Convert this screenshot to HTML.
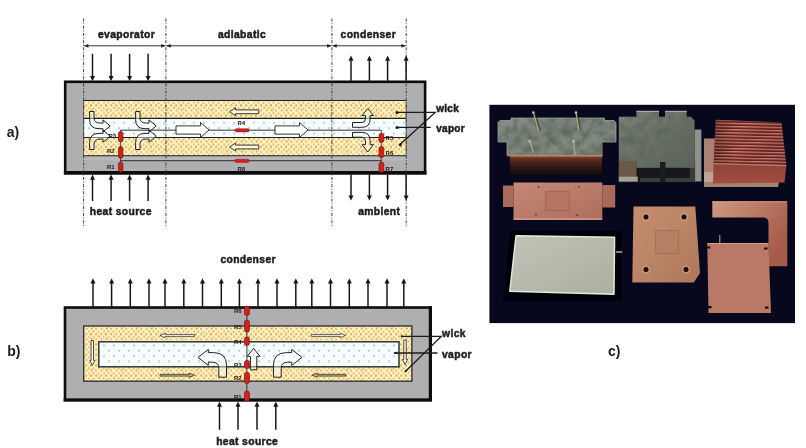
<!DOCTYPE html>
<html><head><meta charset="utf-8"><title>Vapor chamber</title>
<style>
html,body{margin:0;padding:0;background:#fff;}
body{width:806px;height:448px;overflow:hidden;font-family:"Liberation Sans",sans-serif;}
svg{display:block;}
text{font-family:"Liberation Sans",sans-serif;font-weight:bold;fill:#1e1e1e;}
.lb{font-size:10.3px;letter-spacing:0.38px;stroke:#1e1e1e;stroke-width:0.5px;}
.lb2{font-size:10px;letter-spacing:0.3px;stroke:#1e1e1e;stroke-width:0.5px;}
.big{font-size:14px;}
.r{font-size:6px;fill:#1a1a1a;}
</style></head><body>
<svg width="806" height="448" viewBox="0 0 806 448">
<defs>
<pattern id="wick" width="15" height="10.4" patternUnits="userSpaceOnUse">
 <rect width="15" height="10.4" fill="#fbf0c2"/>
 <circle cx="0.99" cy="1.34" r="1.08" fill="#d49a3c"/>
 <circle cx="6.22" cy="1.36" r="1.08" fill="#dca444"/>
 <circle cx="11.22" cy="1.34" r="1.10" fill="#e0ae52"/>
 <circle cx="3.72" cy="4.17" r="0.95" fill="#e4b65e"/>
 <circle cx="9.11" cy="3.69" r="1.07" fill="#e0ae52"/>
 <circle cx="13.77" cy="4.09" r="0.89" fill="#dca444"/>
 <circle cx="1.71" cy="6.13" r="1.06" fill="#dca444"/>
 <circle cx="6.02" cy="6.58" r="1.03" fill="#e4b65e"/>
 <circle cx="11.67" cy="6.42" r="1.09" fill="#e4b65e"/>
 <circle cx="3.38" cy="8.99" r="0.88" fill="#dca444"/>
 <circle cx="8.47" cy="9.47" r="1.04" fill="#e4b65e"/>
 <circle cx="14.11" cy="9.04" r="0.99" fill="#e4b65e"/>
</pattern>
<pattern id="vap" width="10" height="10.6" patternUnits="userSpaceOnUse">
 <rect width="10" height="10.6" fill="#f8fcfc"/>
 <circle cx="4" cy="6.3" r="0.9" fill="#80ccc8"/>
 <circle cx="9" cy="1" r="0.9" fill="#80ccc8"/>
</pattern>
<filter id="soft" x="-5%" y="-5%" width="110%" height="110%"><feGaussianBlur stdDeviation="0.45"/></filter>
<filter id="ph" x="-5%" y="-5%" width="110%" height="110%"><feGaussianBlur stdDeviation="0.6"/></filter>
</defs>
<rect width="806" height="448" fill="#fff"/>
<g filter="url(#soft)">

<g id="a">
<rect x="65.2" y="81.8" width="359.9" height="91.4" fill="#afafb1" stroke="#0a0a0a" stroke-width="2.6"/>
<rect x="83.6" y="100.5" width="322.6" height="17.9" fill="url(#wick)"/>
<rect x="83.6" y="118.4" width="322.6" height="19.1" fill="url(#vap)"/>
<rect x="83.6" y="137.5" width="322.6" height="18.3" fill="url(#wick)"/>
<rect x="83.6" y="155.8" width="322.6" height="4.8" fill="#b8b8ba"/>
<line x1="63.9" y1="172.7" x2="426.4" y2="172.7" stroke="#0a0a0a" stroke-width="3.4"/>
<line x1="83.6" y1="100.5" x2="406.2" y2="100.5" stroke="#1c1c1c" stroke-width="1.1"/>
<line x1="83.6" y1="118.4" x2="406.2" y2="118.4" stroke="#1c1c1c" stroke-width="1.1"/>
<line x1="83.6" y1="137.5" x2="406.2" y2="137.5" stroke="#1c1c1c" stroke-width="1.1"/>
<line x1="83.6" y1="155.8" x2="406.2" y2="155.8" stroke="#1c1c1c" stroke-width="1.1"/>
<line x1="83.6" y1="100.5" x2="83.6" y2="155.8" stroke="#444" stroke-width="0.7"/>
<line x1="406.2" y1="100.5" x2="406.2" y2="155.8" stroke="#444" stroke-width="0.7"/>
<line x1="120.5" y1="130.3" x2="381.2" y2="130.3" stroke="#777" stroke-width="1.6"/>
<line x1="120.5" y1="160.6" x2="381.2" y2="160.6" stroke="#4a4a4a" stroke-width="1.2"/>
<line x1="120.6" y1="130" x2="120.6" y2="172" stroke="#222" stroke-width="0.8"/><line x1="381.3" y1="130" x2="381.3" y2="172" stroke="#222" stroke-width="0.8"/>
<line x1="83.6" y1="18.5" x2="83.6" y2="227.5" stroke="#3a3a3a" stroke-width="0.95" stroke-dasharray="3.2 1.5 1 1.5"/>
<line x1="165.9" y1="18.5" x2="165.9" y2="227.5" stroke="#3a3a3a" stroke-width="0.95" stroke-dasharray="3.2 1.5 1 1.5"/>
<line x1="331.9" y1="18.5" x2="331.9" y2="227.5" stroke="#3a3a3a" stroke-width="0.95" stroke-dasharray="3.2 1.5 1 1.5"/>
<line x1="406.2" y1="18.5" x2="406.2" y2="227.5" stroke="#3a3a3a" stroke-width="0.95" stroke-dasharray="3.2 1.5 1 1.5"/>
<line x1="84.2" y1="45.8" x2="165.3" y2="45.8" stroke="#333" stroke-width="1"/><path d="M84.2 45.8 l4.2 -1.9 v3.8 Z M165.3 45.8 l-4.2 -1.9 v3.8 Z" fill="#222"/>
<line x1="166.5" y1="45.8" x2="331.3" y2="45.8" stroke="#333" stroke-width="1"/><path d="M166.5 45.8 l4.2 -1.9 v3.8 Z M331.3 45.8 l-4.2 -1.9 v3.8 Z" fill="#222"/>
<line x1="332.5" y1="45.8" x2="405.6" y2="45.8" stroke="#333" stroke-width="1"/><path d="M332.5 45.8 l4.2 -1.9 v3.8 Z M405.6 45.8 l-4.2 -1.9 v3.8 Z" fill="#222"/>
<line x1="92.5" y1="53.8" x2="92.5" y2="78.18" stroke="#181818" stroke-width="1.5"/><path d="M92.5 81.3 L90.0 76.1 L95.0 76.1 Z" fill="#181818"/>
<line x1="92.5" y1="201" x2="92.5" y2="177.72" stroke="#181818" stroke-width="1.5"/><path d="M92.5 174.6 L90.0 179.79999999999998 L95.0 179.79999999999998 Z" fill="#181818"/>
<line x1="111.1" y1="53.8" x2="111.1" y2="78.18" stroke="#181818" stroke-width="1.5"/><path d="M111.1 81.3 L108.6 76.1 L113.6 76.1 Z" fill="#181818"/>
<line x1="111.1" y1="201" x2="111.1" y2="177.72" stroke="#181818" stroke-width="1.5"/><path d="M111.1 174.6 L108.6 179.79999999999998 L113.6 179.79999999999998 Z" fill="#181818"/>
<line x1="129.6" y1="53.8" x2="129.6" y2="78.18" stroke="#181818" stroke-width="1.5"/><path d="M129.6 81.3 L127.1 76.1 L132.1 76.1 Z" fill="#181818"/>
<line x1="129.6" y1="201" x2="129.6" y2="177.72" stroke="#181818" stroke-width="1.5"/><path d="M129.6 174.6 L127.1 179.79999999999998 L132.1 179.79999999999998 Z" fill="#181818"/>
<line x1="148.1" y1="53.8" x2="148.1" y2="78.18" stroke="#181818" stroke-width="1.5"/><path d="M148.1 81.3 L145.6 76.1 L150.6 76.1 Z" fill="#181818"/>
<line x1="148.1" y1="201" x2="148.1" y2="177.72" stroke="#181818" stroke-width="1.5"/><path d="M148.1 174.6 L145.6 179.79999999999998 L150.6 179.79999999999998 Z" fill="#181818"/>
<line x1="351" y1="81" x2="351" y2="58.62" stroke="#181818" stroke-width="1.5"/><path d="M351 55.5 L348.5 60.7 L353.5 60.7 Z" fill="#181818"/>
<line x1="351" y1="174.6" x2="351" y2="197.48" stroke="#181818" stroke-width="1.5"/><path d="M351 200.6 L348.5 195.4 L353.5 195.4 Z" fill="#181818"/>
<line x1="369.4" y1="81" x2="369.4" y2="58.62" stroke="#181818" stroke-width="1.5"/><path d="M369.4 55.5 L366.9 60.7 L371.9 60.7 Z" fill="#181818"/>
<line x1="369.4" y1="174.6" x2="369.4" y2="197.48" stroke="#181818" stroke-width="1.5"/><path d="M369.4 200.6 L366.9 195.4 L371.9 195.4 Z" fill="#181818"/>
<line x1="387.6" y1="81" x2="387.6" y2="58.62" stroke="#181818" stroke-width="1.5"/><path d="M387.6 55.5 L385.1 60.7 L390.1 60.7 Z" fill="#181818"/>
<line x1="387.6" y1="174.6" x2="387.6" y2="197.48" stroke="#181818" stroke-width="1.5"/><path d="M387.6 200.6 L385.1 195.4 L390.1 195.4 Z" fill="#181818"/>
<line x1="406.1" y1="81" x2="406.1" y2="58.62" stroke="#181818" stroke-width="1.5"/><path d="M406.1 55.5 L403.6 60.7 L408.6 60.7 Z" fill="#181818"/>
<line x1="406.1" y1="174.6" x2="406.1" y2="197.48" stroke="#181818" stroke-width="1.5"/><path d="M406.1 200.6 L403.6 195.4 L408.6 195.4 Z" fill="#181818"/>
<path d="M258.8 109.89999999999999 L235.6 109.89999999999999 L235.6 107.8 L229.6 111.8 L235.6 115.8 L235.6 113.7 L258.8 113.7 Z" fill="#fdf6d8" stroke="#222" stroke-width="0.9" stroke-linejoin="miter"/>
<path d="M258.8 145.1 L235.6 145.1 L235.6 143 L229.6 147 L235.6 151 L235.6 148.9 L258.8 148.9 Z" fill="#fdf6d8" stroke="#222" stroke-width="0.9" stroke-linejoin="miter"/>
<path d="M176 125.9 L200.5 125.9 L200.5 122.4 L209 130 L200.5 137.6 L200.5 134.1 L176 134.1 Z" fill="#fff" stroke="#222" stroke-width="0.9" stroke-linejoin="miter"/>
<path d="M275 125.9 L299.5 125.9 L299.5 122.4 L308 130 L299.5 137.6 L299.5 134.1 L275 134.1 Z" fill="#fff" stroke="#222" stroke-width="0.9" stroke-linejoin="miter"/>
<path d="M89.6 111.5 h4.4 v6.6 q0 5 6.5 5 h2.5 v-3.2 l7.2 6 l-7.2 6 v-3.2 h-4 q-9.4 0 -9.4 -9 Z" fill="#fff" fill-opacity="0.45" stroke="#1c2424" stroke-width="1"/><path d="M89.6 149.5 h4.4 v-5.5 q0 -5 6.5 -5 h2.5 v3.2 l7.2 -6 l-7.2 -6 v3.2 h-4 q-9.4 0 -9.4 9 Z" fill="#fff" fill-opacity="0.45" stroke="#1c2424" stroke-width="1"/>
<path d="M135.6 111.5 h4.4 v6.6 q0 5 6.5 5 h2.5 v-3.2 l7.2 6 l-7.2 6 v-3.2 h-4 q-9.4 0 -9.4 -9 Z" fill="#fff" fill-opacity="0.45" stroke="#1c2424" stroke-width="1"/><path d="M135.6 149.5 h4.4 v-5.5 q0 -5 6.5 -5 h2.5 v3.2 l7.2 -6 l-7.2 -6 v3.2 h-4 q-9.4 0 -9.4 9 Z" fill="#fff" fill-opacity="0.45" stroke="#1c2424" stroke-width="1"/>
<path d="M352.5 122.5 h9.5 q3.5 0 3.5 -4 v-3 h-3.3 l5.6 -7 l5.6 7 h-3.3 v3.5 q0 8.3 -8 8.3 h-9.6 Z" fill="#fff" fill-opacity="0.45" stroke="#1c2424" stroke-width="1"/>
<path d="M352.5 132.4 h9.6 q8 0 8 8.3 v4 h3.3 l-5.6 7.3 l-5.6 -7.3 h3.3 v-3.5 q0 -4 -3.5 -4 h-9.5 Z" fill="#fff" fill-opacity="0.45" stroke="#1c2424" stroke-width="1"/>
<rect x="118.50" y="131.6" width="4.4" height="10.20" rx="1.9" fill="#d22019" stroke="#7e1410" stroke-width="0.7"/>
<rect x="118.50" y="146.6" width="4.4" height="11.60" rx="1.9" fill="#d22019" stroke="#7e1410" stroke-width="0.7"/>
<rect x="118.50" y="162.2" width="4.4" height="9.80" rx="1.9" fill="#d22019" stroke="#7e1410" stroke-width="0.7"/>
<rect x="379.00" y="133.4" width="4.8" height="9.00" rx="1.9" fill="#d22019" stroke="#7e1410" stroke-width="0.7"/>
<rect x="379.00" y="146.6" width="4.8" height="10.80" rx="1.9" fill="#d22019" stroke="#7e1410" stroke-width="0.7"/>
<rect x="379.00" y="162.2" width="4.8" height="10.00" rx="1.9" fill="#d22019" stroke="#7e1410" stroke-width="0.7"/>
<rect x="235" y="128.70" width="14.00" height="3.2" rx="1.2" fill="#d62420" stroke="#8e1512" stroke-width="0.5"/>
<rect x="235" y="159.20" width="14.00" height="3.2" rx="1.2" fill="#d62420" stroke="#8e1512" stroke-width="0.5"/>
<text class="r" x="108.5" y="137.6">R3</text><text class="r" x="107" y="152.6">R2</text><text class="r" x="107" y="168.6">R1</text>
<text class="r" x="385.6" y="140.3">R5</text><text class="r" x="385.6" y="155.2">R6</text><text class="r" x="385.6" y="171">R7</text>
<text class="r" x="237.5" y="124.6">R4</text><text class="r" x="237.5" y="170.6">R8</text>
<path d="M397 112.4 H435.2 L400 144.6" fill="none" stroke="#1a1a1a" stroke-width="1.3"/>
<line x1="396" y1="127.4" x2="430.8" y2="127.4" stroke="#1a1a1a" stroke-width="1.3"/>
<circle cx="397" cy="112.4" r="1.5" fill="#1a1a1a"/><circle cx="400.4" cy="144.8" r="1.5" fill="#1a1a1a"/><circle cx="397" cy="127.6" r="1.5" fill="#1a1a1a"/>
</g>
<text class="lb" x="98" y="38">evaporator</text>
<text class="lb" x="218" y="38">adiabatic</text>
<text class="lb" x="340.6" y="38">condenser</text>
<text class="lb" x="89.8" y="214.6">heat source</text>
<text class="lb" x="358.2" y="214.6">ambient</text>
<text class="lb2" x="436.2" y="111.9">wick</text>
<text class="lb2" x="436.2" y="131.5">vapor</text>
<text class="big" x="6.8" y="136.5">a)</text>
<g id="b">
<rect x="65" y="307.5" width="365.5" height="92.5" fill="#afafb1" stroke="#0a0a0a" stroke-width="2.6"/>
<line x1="430.4" y1="306.2" x2="430.4" y2="401.3" stroke="#0a0a0a" stroke-width="3.2"/>
<line x1="63.7" y1="400" x2="432" y2="400" stroke="#0a0a0a" stroke-width="3"/>
<rect x="83.7" y="326" width="328.2" height="55.2" fill="url(#wick)" stroke="#2a2a2a" stroke-width="1.3"/>
<rect x="98.8" y="341.8" width="300.2" height="25" fill="url(#vap)" stroke="#303835" stroke-width="1.5"/>
<line x1="93" y1="307" x2="93" y2="281.42" stroke="#181818" stroke-width="1.5"/><path d="M93 278.3 L90.5 283.5 L95.5 283.5 Z" fill="#181818"/>
<line x1="111.6" y1="307" x2="111.6" y2="281.42" stroke="#181818" stroke-width="1.5"/><path d="M111.6 278.3 L109.1 283.5 L114.1 283.5 Z" fill="#181818"/>
<line x1="130.3" y1="307" x2="130.3" y2="281.42" stroke="#181818" stroke-width="1.5"/><path d="M130.3 278.3 L127.80000000000001 283.5 L132.8 283.5 Z" fill="#181818"/>
<line x1="149" y1="307" x2="149" y2="281.42" stroke="#181818" stroke-width="1.5"/><path d="M149 278.3 L146.5 283.5 L151.5 283.5 Z" fill="#181818"/>
<line x1="165" y1="307" x2="165" y2="281.42" stroke="#181818" stroke-width="1.5"/><path d="M165 278.3 L162.5 283.5 L167.5 283.5 Z" fill="#181818"/>
<line x1="183.8" y1="307" x2="183.8" y2="281.42" stroke="#181818" stroke-width="1.5"/><path d="M183.8 278.3 L181.3 283.5 L186.3 283.5 Z" fill="#181818"/>
<line x1="202.5" y1="307" x2="202.5" y2="281.42" stroke="#181818" stroke-width="1.5"/><path d="M202.5 278.3 L200.0 283.5 L205.0 283.5 Z" fill="#181818"/>
<line x1="221.3" y1="307" x2="221.3" y2="281.42" stroke="#181818" stroke-width="1.5"/><path d="M221.3 278.3 L218.8 283.5 L223.8 283.5 Z" fill="#181818"/>
<line x1="239.4" y1="307" x2="239.4" y2="281.42" stroke="#181818" stroke-width="1.5"/><path d="M239.4 278.3 L236.9 283.5 L241.9 283.5 Z" fill="#181818"/>
<line x1="258" y1="307" x2="258" y2="281.42" stroke="#181818" stroke-width="1.5"/><path d="M258 278.3 L255.5 283.5 L260.5 283.5 Z" fill="#181818"/>
<line x1="277" y1="307" x2="277" y2="281.42" stroke="#181818" stroke-width="1.5"/><path d="M277 278.3 L274.5 283.5 L279.5 283.5 Z" fill="#181818"/>
<line x1="295.8" y1="307" x2="295.8" y2="281.42" stroke="#181818" stroke-width="1.5"/><path d="M295.8 278.3 L293.3 283.5 L298.3 283.5 Z" fill="#181818"/>
<line x1="311.8" y1="307" x2="311.8" y2="281.42" stroke="#181818" stroke-width="1.5"/><path d="M311.8 278.3 L309.3 283.5 L314.3 283.5 Z" fill="#181818"/>
<line x1="330.5" y1="307" x2="330.5" y2="281.42" stroke="#181818" stroke-width="1.5"/><path d="M330.5 278.3 L328.0 283.5 L333.0 283.5 Z" fill="#181818"/>
<line x1="349.3" y1="307" x2="349.3" y2="281.42" stroke="#181818" stroke-width="1.5"/><path d="M349.3 278.3 L346.8 283.5 L351.8 283.5 Z" fill="#181818"/>
<line x1="368" y1="307" x2="368" y2="281.42" stroke="#181818" stroke-width="1.5"/><path d="M368 278.3 L365.5 283.5 L370.5 283.5 Z" fill="#181818"/>
<line x1="387" y1="307" x2="387" y2="281.42" stroke="#181818" stroke-width="1.5"/><path d="M387 278.3 L384.5 283.5 L389.5 283.5 Z" fill="#181818"/>
<line x1="403.8" y1="307" x2="403.8" y2="281.42" stroke="#181818" stroke-width="1.5"/><path d="M403.8 278.3 L401.3 283.5 L406.3 283.5 Z" fill="#181818"/>
<line x1="219.5" y1="429.8" x2="219.5" y2="404.72" stroke="#181818" stroke-width="1.5"/><path d="M219.5 401.6 L217.0 406.8 L222.0 406.8 Z" fill="#181818"/>
<line x1="238" y1="429.8" x2="238" y2="404.72" stroke="#181818" stroke-width="1.5"/><path d="M238 401.6 L235.5 406.8 L240.5 406.8 Z" fill="#181818"/>
<line x1="257" y1="429.8" x2="257" y2="404.72" stroke="#181818" stroke-width="1.5"/><path d="M257 401.6 L254.5 406.8 L259.5 406.8 Z" fill="#181818"/>
<line x1="275.8" y1="429.8" x2="275.8" y2="404.72" stroke="#181818" stroke-width="1.5"/><path d="M275.8 401.6 L273.3 406.8 L278.3 406.8 Z" fill="#181818"/>
<line x1="246.9" y1="307" x2="246.9" y2="400" stroke="#222" stroke-width="0.9"/>
<path d="M194.5 334.6 L165 334.6 L165 333.3 L160 335.5 L165 337.7 L165 336.4 L194.5 336.4 Z" fill="#fff" stroke="#222" stroke-width="0.7" stroke-linejoin="miter"/>
<path d="M311.3 334.6 L340.4 334.6 L340.4 333.3 L345.4 335.5 L340.4 337.7 L340.4 336.4 L311.3 336.4 Z" fill="#fff" stroke="#222" stroke-width="0.7" stroke-linejoin="miter"/>
<path d="M160 374.3 L189.5 374.3 L189.5 373.0 L194.5 375.2 L189.5 377.4 L189.5 376.09999999999997 L160 376.09999999999997 Z" fill="#c9b27a" stroke="#222" stroke-width="0.7" stroke-linejoin="miter"/>
<path d="M345.8 374.3 L317 374.3 L317 373.0 L312 375.2 L317 377.4 L317 376.09999999999997 L345.8 376.09999999999997 Z" fill="#c9b27a" stroke="#222" stroke-width="0.7" stroke-linejoin="miter"/>
<path d="M91.1 340.5 L91.1 360.5 L89.8 360.5 L92.3 365.5 L94.8 360.5 L93.5 360.5 L93.5 340.5 Z" fill="#fff" stroke="#222" stroke-width="0.8"/>
<path d="M403.8 340 L403.8 359.5 L402.5 359.5 L405 364.5 L407.5 359.5 L406.2 359.5 L406.2 340 Z" fill="#fff" stroke="#222" stroke-width="0.8"/>
<path d="M218.8 377.2 v-9 q0 -6 -6.5 -6 h-4 v3.2 l-10.3 -8 l10.3 -8 v3.2 h5 q13.2 0 13.2 12.5 v12.1 Z" fill="#fff" fill-opacity="0.45" stroke="#1c2424" stroke-width="1"/>
<path d="M281.2 377.2 v-9 q0 -6 6.5 -6 h4 v3.2 l10.3 -8 l-10.3 -8 v3.2 h-5 q-13.2 0 -13.2 12.5 v12.1 Z" fill="#fff" fill-opacity="0.45" stroke="#1c2424" stroke-width="1"/>
<path d="M250.4 369.8 v-13.5 h-3.2 l6.4 -7.8 l6.4 7.8 h-3.2 v13.5 Z" fill="#fff" fill-opacity="0.45" stroke="#1c2424" stroke-width="1"/>
<rect x="244.5" y="306.4" width="4.9" height="9.00" rx="1.9" fill="#d22019" stroke="#7e1410" stroke-width="0.7"/>
<rect x="244.5" y="320.2" width="4.9" height="11.80" rx="1.9" fill="#d22019" stroke="#7e1410" stroke-width="0.7"/>
<rect x="244.5" y="337" width="4.9" height="8.40" rx="1.9" fill="#d22019" stroke="#7e1410" stroke-width="0.7"/>
<rect x="244.5" y="360.6" width="4.9" height="7.80" rx="1.9" fill="#d22019" stroke="#7e1410" stroke-width="0.7"/>
<rect x="244.5" y="372.4" width="4.9" height="11.00" rx="1.9" fill="#d22019" stroke="#7e1410" stroke-width="0.7"/>
<rect x="244.5" y="391" width="4.9" height="10.00" rx="1.9" fill="#d22019" stroke="#7e1410" stroke-width="0.7"/>
<text class="r" x="234" y="313">R6</text>
<text class="r" x="234" y="328.5">R5</text>
<text class="r" x="234" y="343.5">R4</text>
<text class="r" x="234" y="366.5">R3</text>
<text class="r" x="234" y="380">R2</text>
<text class="r" x="234" y="398.5">R1</text>
<path d="M401.8 336.4 H441.2 L405.6 371.2" fill="none" stroke="#1a1a1a" stroke-width="1.3"/>
<line x1="393.8" y1="353" x2="437.5" y2="353" stroke="#1a1a1a" stroke-width="1.3"/>
<circle cx="401.8" cy="336.4" r="1.1" fill="#222"/><circle cx="405.6" cy="371.2" r="1.1" fill="#222"/><path d="M393.8 353 l3.6 -1.6 v3.2 Z" fill="#222"/>
</g>
<text class="lb" x="220.4" y="262.5">condenser</text>
<text class="lb" x="216.2" y="444.8">heat source</text>
<text class="lb" x="442" y="337">wick</text>
<text class="lb" x="442" y="357.5">vapor</text>
<text class="big" x="7.2" y="356">b)</text>
<text class="big" x="608" y="356">c)</text>
</g>
<defs>
<linearGradient id="tin1" x1="0" y1="0" x2="1" y2="1">
 <stop offset="0" stop-color="#8c948a"/><stop offset="0.35" stop-color="#788278"/><stop offset="0.7" stop-color="#828b80"/><stop offset="1" stop-color="#6e766c"/>
</linearGradient>
<linearGradient id="tin2" x1="0" y1="0" x2="1" y2="1">
 <stop offset="0" stop-color="#7c8078"/><stop offset="0.5" stop-color="#6c7066"/><stop offset="1" stop-color="#5e625a"/>
</linearGradient>
<linearGradient id="cuBody" x1="0" y1="0" x2="0" y2="1">
 <stop offset="0" stop-color="#b06850"/><stop offset="0.1" stop-color="#663222"/><stop offset="0.5" stop-color="#361a13"/><stop offset="1" stop-color="#0c0810"/>
</linearGradient>
<linearGradient id="cu1" x1="0" y1="0" x2="1" y2="1">
 <stop offset="0" stop-color="#c68a78"/><stop offset="0.5" stop-color="#ba7a68"/><stop offset="1" stop-color="#ae6e5c"/>
</linearGradient>
<linearGradient id="cu2" x1="0" y1="0" x2="1" y2="1">
 <stop offset="0" stop-color="#c48e6e"/><stop offset="0.5" stop-color="#ba8466"/><stop offset="1" stop-color="#ae765c"/>
</linearGradient>
<linearGradient id="cu3" x1="0" y1="0" x2="0" y2="1">
 <stop offset="0" stop-color="#c48468"/><stop offset="1" stop-color="#b06c58"/>
</linearGradient>
<linearGradient id="silver" x1="0" y1="0" x2="1" y2="1">
 <stop offset="0" stop-color="#c0c2b6"/><stop offset="0.5" stop-color="#b6b9ab"/><stop offset="1" stop-color="#acb0a0"/>
</linearGradient>
<pattern id="fins" width="10" height="3.15" patternUnits="userSpaceOnUse" patternTransform="translate(0 120) skewY(1.2)">
 <rect width="10" height="3.15" fill="#b05a50"/>
 <rect y="1.7" width="10" height="1.45" fill="#64241f"/>
 <rect y="0" width="10" height="0.8" fill="#cc8078"/>
</pattern>
<linearGradient id="finshade" x1="0" y1="0" x2="1" y2="0">
 <stop offset="0" stop-color="#000" stop-opacity="0.25"/><stop offset="0.3" stop-color="#000" stop-opacity="0"/><stop offset="1" stop-color="#000" stop-opacity="0.1"/>
</linearGradient>
<filter id="mottle" x="0" y="0" width="100%" height="100%">
 <feTurbulence type="fractalNoise" baseFrequency="0.11" numOctaves="3" seed="5" result="n"/>
 <feColorMatrix in="n" type="matrix" values="0 0 0 0 0.1  0 0 0 0 0.14  0 0 0 0 0.1  2.0 0 0 0 -0.68" result="dark"/>
 <feComposite in="dark" in2="SourceGraphic" operator="in" result="d2"/>
 <feMerge><feMergeNode in="SourceGraphic"/><feMergeNode in="d2"/></feMerge>
</filter>
<linearGradient id="cuL" x1="0" y1="0" x2="1" y2="0.6">
 <stop offset="0" stop-color="#cc9a82"/><stop offset="0.45" stop-color="#bc7c66"/><stop offset="1" stop-color="#a65a4a"/>
</linearGradient>
<linearGradient id="finface" x1="0" y1="0" x2="0" y2="1">
 <stop offset="0" stop-color="#8e4236"/><stop offset="1" stop-color="#a24e42"/>
</linearGradient>
</defs>
<g id="c">
<rect x="489.4" y="104.8" width="305.6" height="218.3" fill="#07071e"/>
<g filter="url(#ph)">
<!-- 1: tin heatsink top-left -->
<path d="M509.8 156 H602 V175 H509.8 Z" fill="url(#cuBody)"/>
<path d="M511 118 H604.5 V120.5 H614 L616 122.5 V142 H602.5 V155.8 H507 V142 H498 V122.5 L500 120.5 H511 Z" fill="url(#tin1)" filter="url(#mottle)"/>
<path d="M511 118 H604.5 V120.5 H614 L616 122.5 V142 H602.5 M507 155 V142 H498 V122.5 L500 120.5 H511 V118" stroke="#a4aca2" stroke-width="0.9" fill="none" opacity="0.8"/>
<path d="M507 155.6 H602.8" stroke="#c48468" stroke-width="1.4" fill="none"/>
<g stroke="#aaa68a" stroke-width="1.3" stroke-linecap="round">
 <line x1="533.5" y1="113" x2="538.5" y2="130"/><line x1="576" y1="113" x2="579" y2="130"/>
 <line x1="529.8" y1="141.5" x2="533.5" y2="152.5"/><line x1="573.5" y1="141.5" x2="575.2" y2="154.5"/>
</g>
<g fill="#c4c0a8"><circle cx="533.3" cy="112.6" r="1.3"/><circle cx="576" cy="112.6" r="1.3"/><circle cx="529.6" cy="141.3" r="1.2"/><circle cx="573.4" cy="141.3" r="1.2"/></g>
<g stroke="#2c2c26" stroke-width="1.2" stroke-linecap="round" opacity="0.7">
 <line x1="535" y1="113.5" x2="540" y2="130"/><line x1="577.5" y1="113.5" x2="580.5" y2="130"/>
</g>
<!-- 4: copper plate mid-left -->
<path d="M503 185.5 H513.5 V207 H503 Z M602.3 185 H615.2 V207.5 H602.3 Z" fill="#aa6a5a"/>
<path d="M513.5 182.5 H602.3 V219.8 H513.5 Z" fill="url(#cu1)"/>
<rect x="545.8" y="191.3" width="23.4" height="19.4" fill="#b47464" stroke="#a4624f" stroke-width="0.9"/>
<path d="M513.5 219.2 H602.3" stroke="#dcaa98" stroke-width="1.2"/>
<circle cx="538.5" cy="186.8" r="0.9" fill="#6a3020"/><circle cx="579" cy="186.8" r="0.9" fill="#6a3020"/>
<circle cx="536" cy="214.6" r="0.9" fill="#6a3020"/><circle cx="577.3" cy="215" r="0.9" fill="#6a3020"/>
<!-- 2: tin heatsink top-middle -->
<rect x="618" y="166" width="78" height="16.5" fill="#16161a"/>
<rect x="618.8" y="160" width="17.7" height="17" fill="#6a584a"/>
<rect x="618.8" y="176.7" width="19" height="5" fill="#a2a29a"/>
<rect x="640" y="178" width="54" height="4" fill="#3a3c3c"/>
<rect x="694.5" y="129.5" width="6.9" height="52" fill="#8e928a"/>
<rect x="689.6" y="162" width="5.5" height="19" fill="#3a3a38"/>
<path d="M618.8 116.8 H636.5 V111 H659 V116.8 H665 V111 H686.6 V116.8 H691 L694.5 120.5 V167.8 H636.5 V161 H618.8 Z" fill="url(#tin2)" filter="url(#mottle)"/>
<path d="M636.5 111.3 H659 M665 111.3 H686.6" stroke="#a8aca4" stroke-width="1.2"/>
<rect x="660" y="162" width="5.5" height="20" fill="#1c1c1e"/>
<!-- 3: copper fin heatsink -->
<rect x="704" y="138.5" width="11" height="45" fill="#aa8272"/>
<rect x="704" y="172" width="10" height="11" fill="#bca494"/>
<path d="M704 182 H779 L778 187 H704 Z" fill="#a08470"/>
<path d="M715.7 119.8 L781.5 122.4 L786.4 165.5 L713.5 163.5 Z" fill="url(#fins)"/>
<path d="M715.7 119.8 L781.5 122.4 L786.4 165.5 L713.5 163.5 Z" fill="url(#finshade)"/>
<path d="M713.5 163.3 L786.4 165.3 L784.5 182.5 L713 183.6 Z" fill="url(#finface)"/>
<path d="M713.5 163.6 L786.4 165.6" stroke="#c07868" stroke-width="1.2"/>
<!-- 5: silver plate -->
<path d="M510 231 H622 V301 H503.5 Z" fill="#040408"/>
<path d="M516 235.8 L614.6 237.2 L614 294.3 L509.8 291.2 Z" fill="url(#silver)" stroke="#e6eadc" stroke-width="1.4" stroke-linejoin="round"/>
<line x1="616" y1="252" x2="622.3" y2="252" stroke="#d8d8d0" stroke-width="1.2"/>
<!-- 6: copper plate with 4 holes -->
<path d="M633.5 206.5 H695.3 L700 273 L693.8 282.5 H632.3 Z" fill="url(#cu2)"/>
<rect x="655.6" y="230.6" width="23" height="23" fill="#b67e62" stroke="#a66c52" stroke-width="0.9"/>
<g fill="#1a0c0c"><circle cx="646" cy="217" r="2.5"/><circle cx="684" cy="217" r="2.5"/><circle cx="646" cy="269.5" r="2.5"/><circle cx="686" cy="269.5" r="2.5"/></g>
<g fill="none" stroke="#cfa07e" stroke-width="1"><circle cx="646" cy="217" r="3.6"/><circle cx="684" cy="217" r="3.6"/><circle cx="646" cy="269.5" r="3.6"/><circle cx="686" cy="269.5" r="3.6"/></g>
<!-- 7: L-shaped copper -->
<path d="M712.3 201.3 H785 Q787.3 201.3 787.3 203.6 V266.3 H768.5 V223 Q768.5 217.5 763 217.5 H712.3 Z" fill="url(#cuL)"/>
<path d="M712.3 201.8 H787.3" stroke="#d09880" stroke-width="1"/>
<!-- 8: copper square plate -->
<line x1="719.8" y1="235" x2="719.8" y2="243" stroke="#c0a890" stroke-width="1"/>
<path d="M707.3 243 H768.5 L771 313 H708.5 Z" fill="#ba7866"/>
<path d="M707.3 243.5 H768.5" stroke="#d8a088" stroke-width="1"/>
<rect x="707.3" y="246.5" width="3" height="2" fill="#10080c"/><rect x="764" y="247.5" width="3.5" height="2" fill="#10080c"/>
<rect x="708" y="306" width="3.5" height="2.2" fill="#10080c"/><rect x="765" y="306.5" width="3.5" height="2.2" fill="#10080c"/>
</g>
</g>

</svg></body></html>
